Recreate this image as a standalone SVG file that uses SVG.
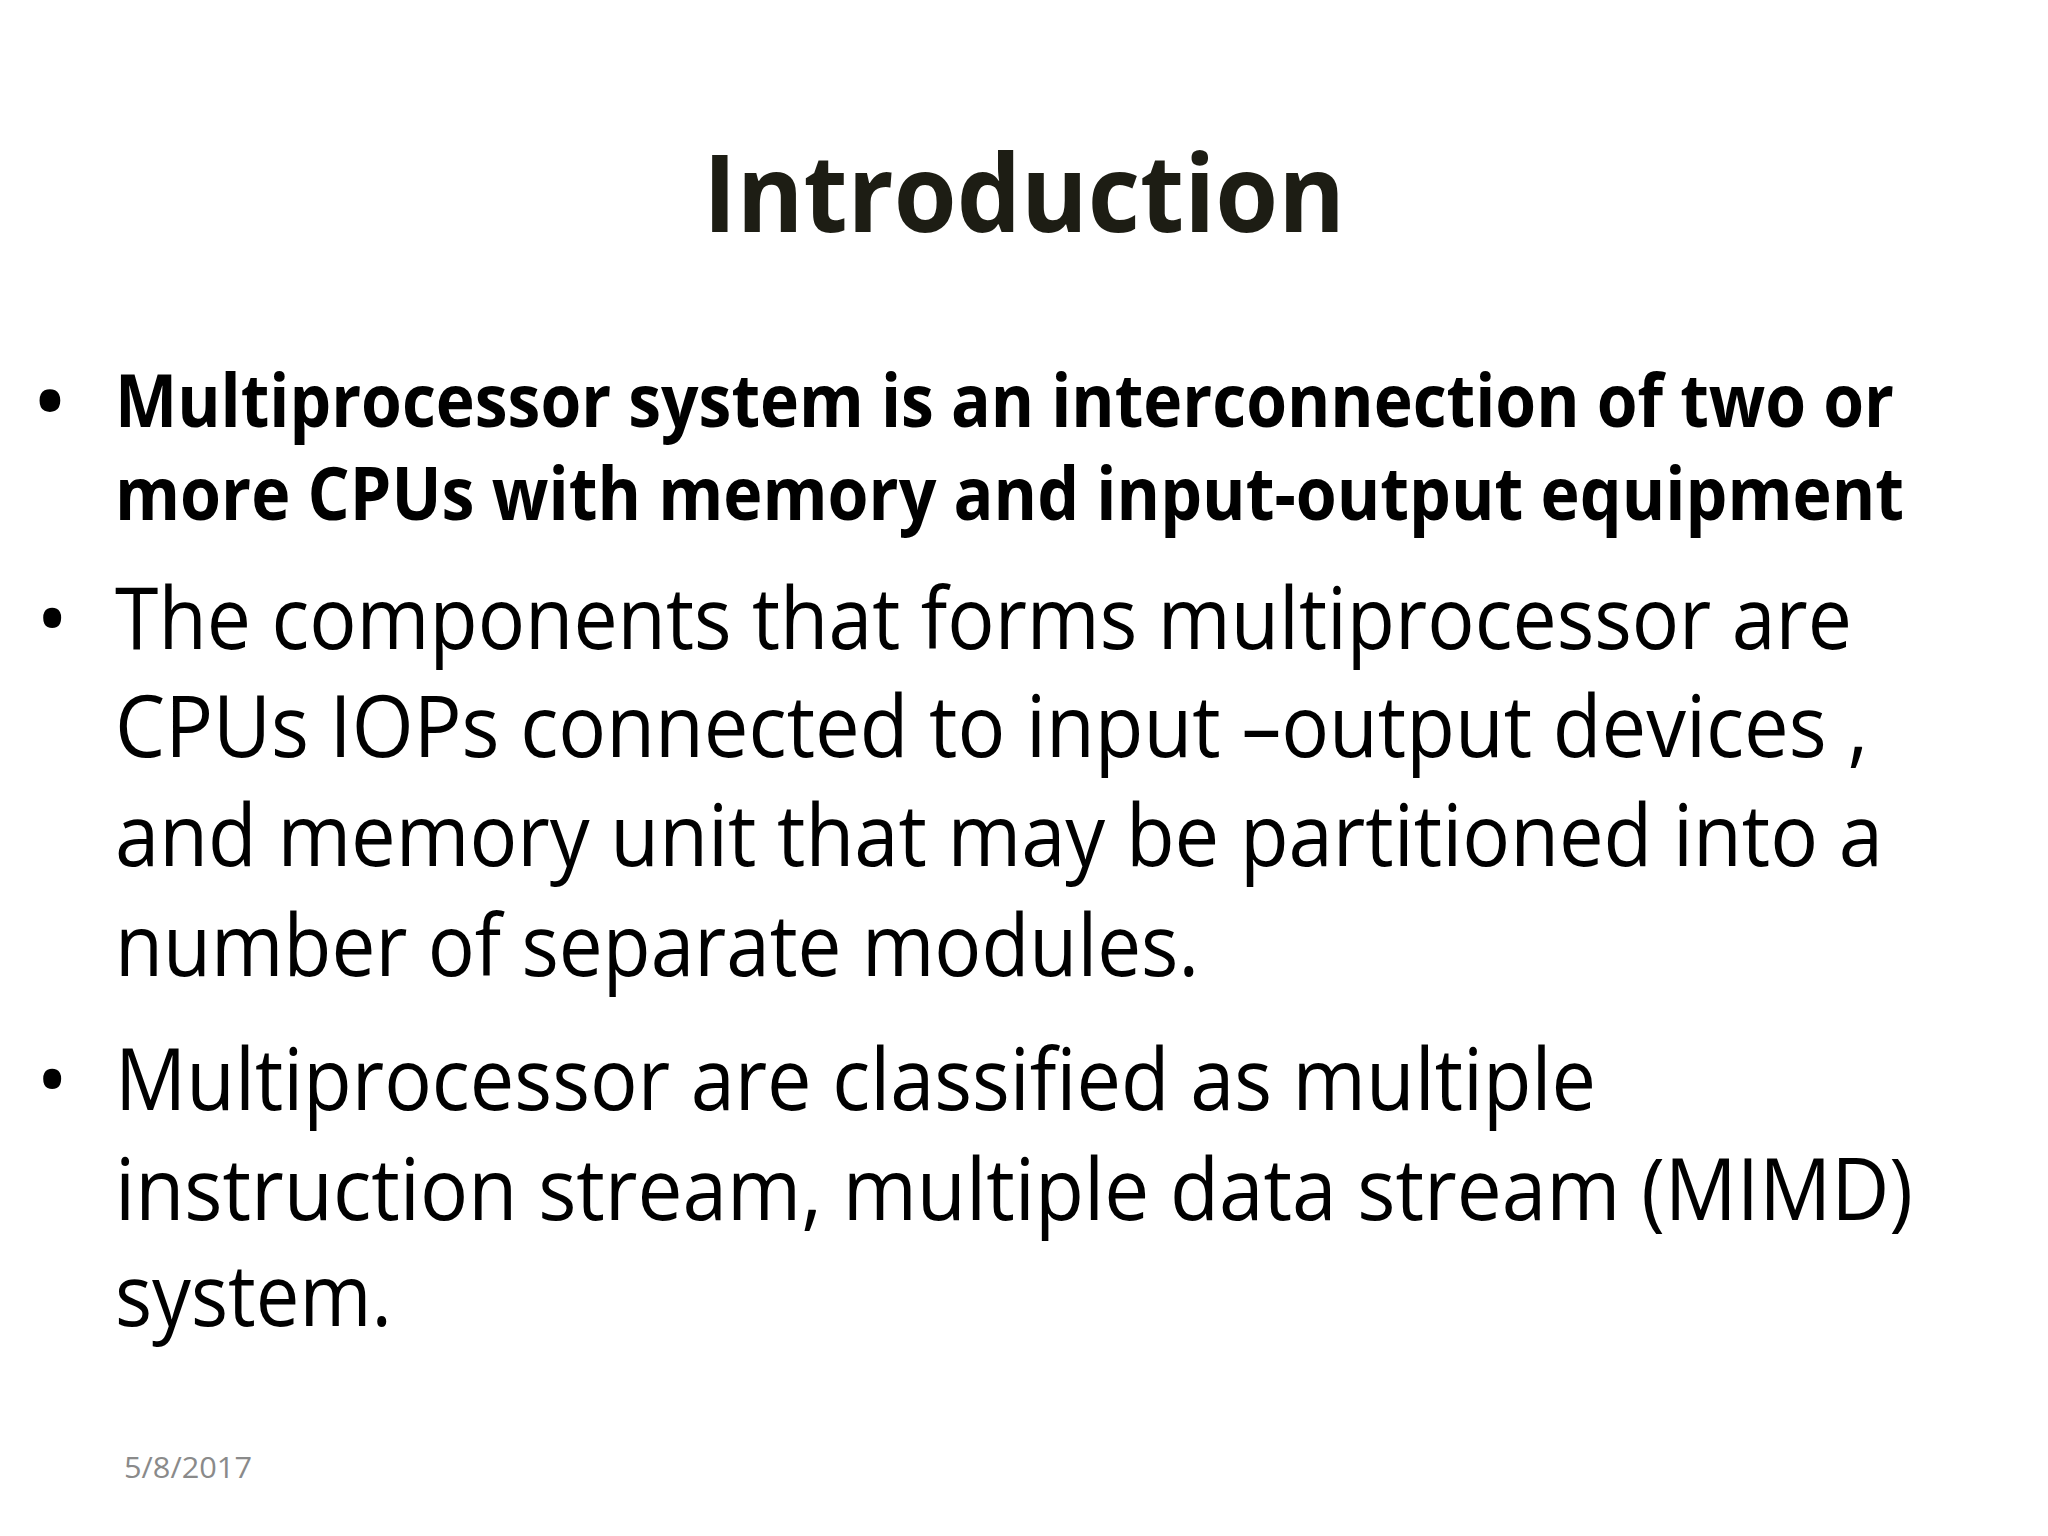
<svg xmlns="http://www.w3.org/2000/svg" width="2048" height="1536" viewBox="0 0 2048 1536">
<style>
text{font-family:"Open Sans","Noto Sans",sans-serif;fill:#000}
.t{font-size:108px;font-weight:bold;fill:#1d1d14}
.b{font-size:74px;font-weight:bold}
.n{font-size:86px}
.d{font-size:30px;fill:#8a8a8a}
</style>
<rect width="2048" height="1536" fill="#fff"/>
<g id="title"><text class="t" x="703" y="232" textLength="642" lengthAdjust="spacingAndGlyphs">Introduction</text></g>
<g id="bullet1">
<text class="b" x="36" y="427">•</text>
<text class="b" x="115" y="427" textLength="1779" lengthAdjust="spacingAndGlyphs">Multiprocessor system is an interconnection of two or</text>
<text class="b" x="115" y="520" textLength="1789" lengthAdjust="spacingAndGlyphs">more CPUs with memory and input-output equipment</text>
</g>
<g id="bullet2">
<text class="n" x="36" y="649" font-size="96">•</text>
<text class="n" x="115" y="649" textLength="1737" lengthAdjust="spacingAndGlyphs">The components that forms multiprocessor are</text>
<text class="n" x="115" y="757" textLength="1753" lengthAdjust="spacingAndGlyphs">CPUs IOPs connected to input –output devices ,</text>
<text class="n" x="115" y="866" textLength="1768" lengthAdjust="spacingAndGlyphs">and memory unit that may be partitioned into a</text>
<text class="n" x="115" y="976" textLength="1084" lengthAdjust="spacingAndGlyphs">number of separate modules.</text>
</g>
<g id="bullet3">
<text class="n" x="36" y="1110" font-size="96">•</text>
<text class="n" x="115" y="1110" textLength="1481" lengthAdjust="spacingAndGlyphs">Multiprocessor are classified as multiple</text>
<text class="n" x="115" y="1220" textLength="1798" lengthAdjust="spacingAndGlyphs">instruction stream, multiple data stream (MIMD)</text>
<text class="n" x="115" y="1326" textLength="277" lengthAdjust="spacingAndGlyphs">system.</text>
</g>
<g id="date"><text class="d" x="124" y="1478" textLength="128" lengthAdjust="spacingAndGlyphs">5/8/2017</text></g>
</svg>
